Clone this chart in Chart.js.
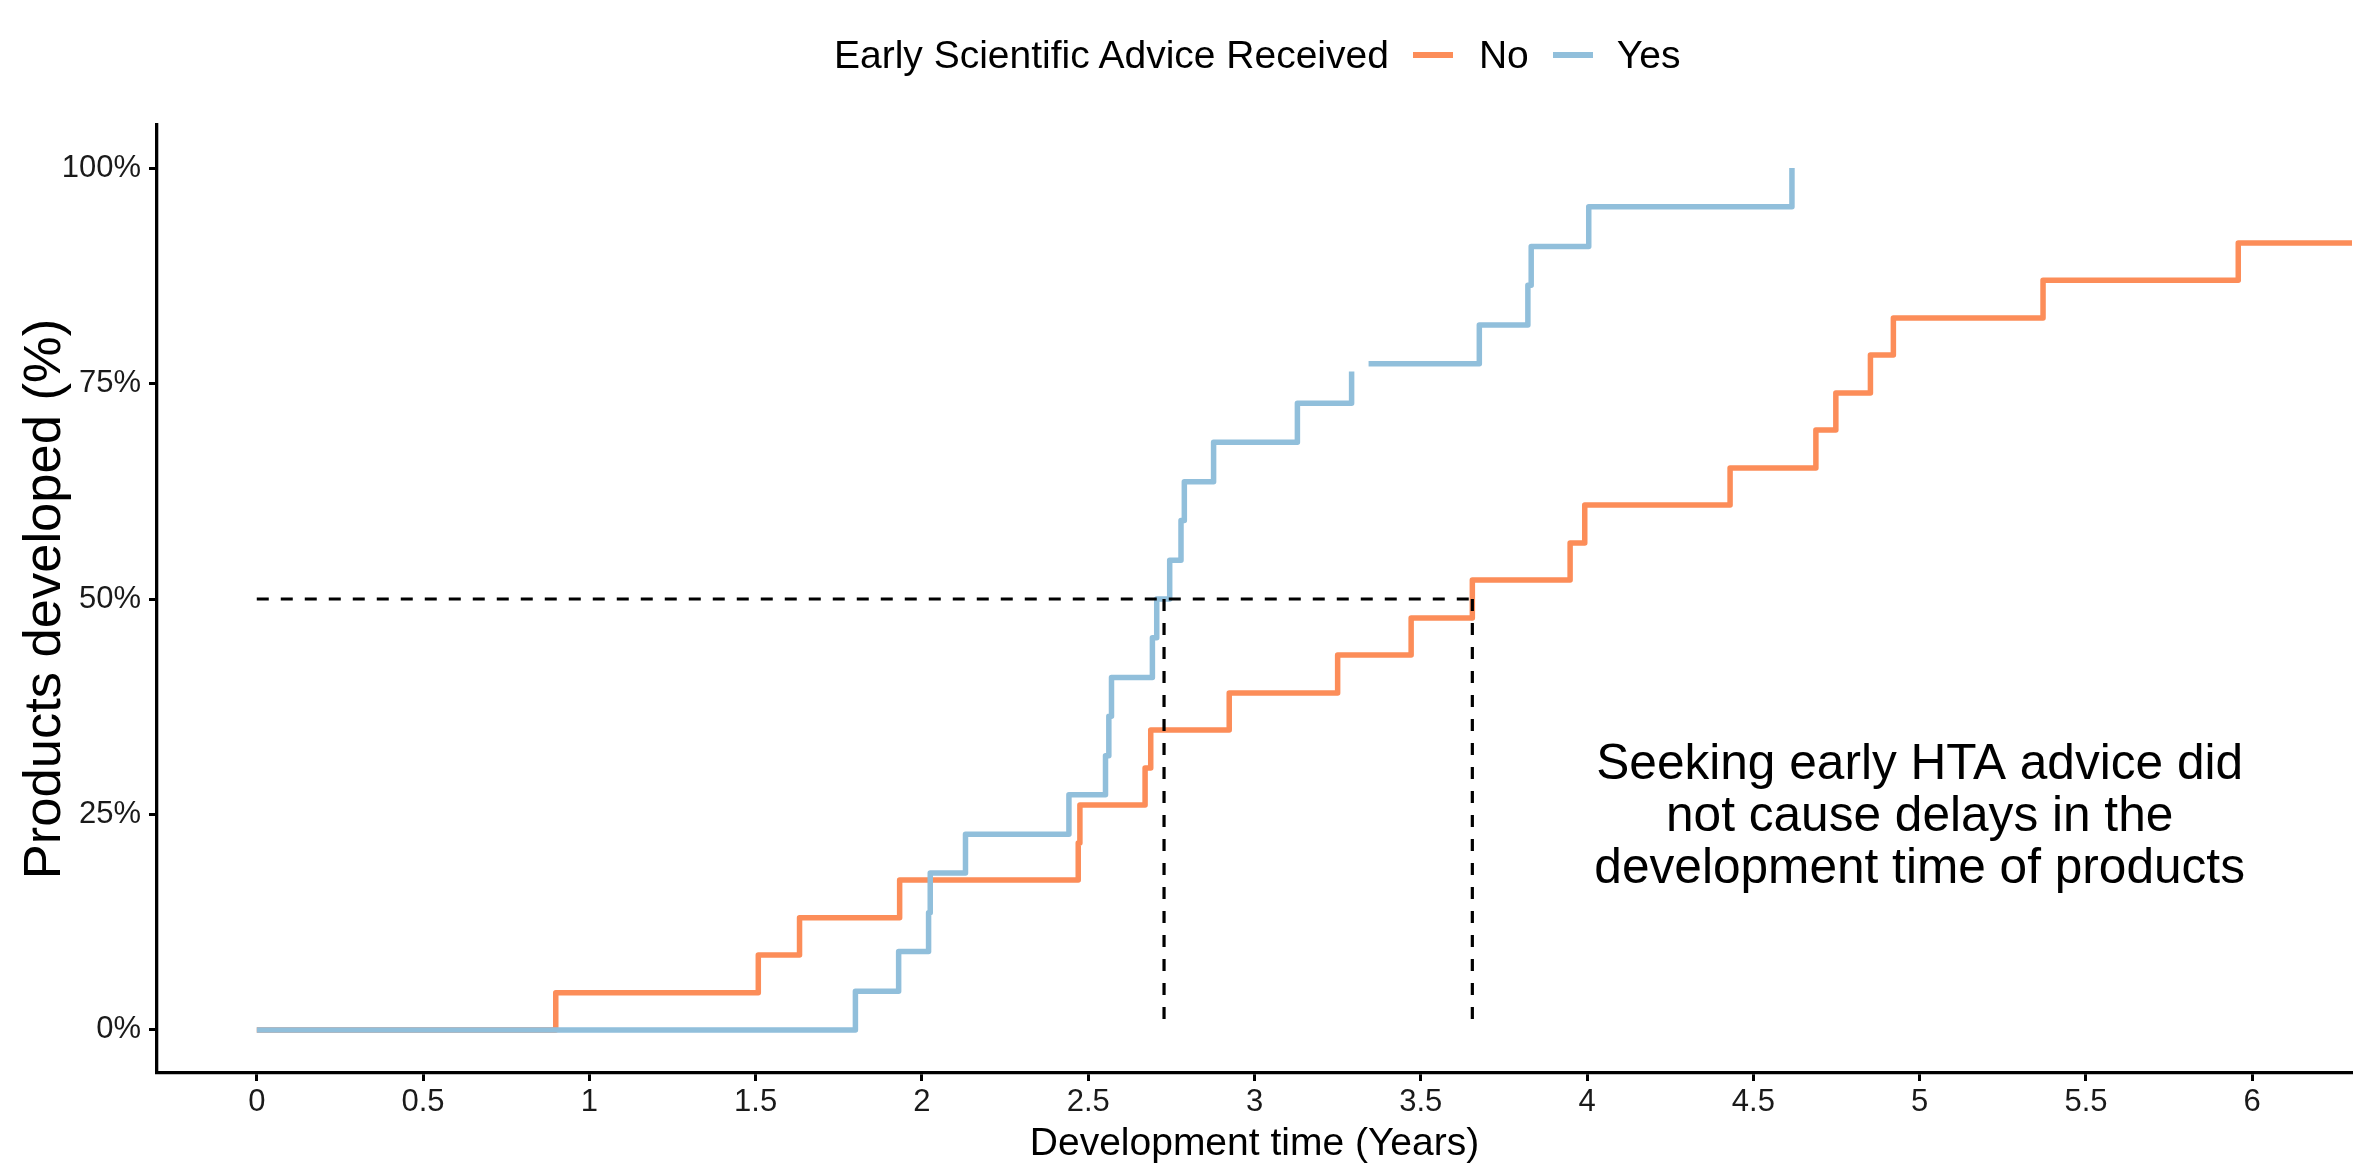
<!DOCTYPE html>
<html>
<head>
<meta charset="utf-8">
<script src="https://cdn.jsdelivr.net/npm/chart.js@4.4.1/dist/chart.umd.min.js"></script>
<style>
  html, body { margin: 0; padding: 0; background: #fff; }
  #wrap { position: relative; width: 2360px; height: 1175px; }
  #legend {
    position: absolute; left: 834px; top: 30px; height: 50px;
    display: flex; align-items: center;
    font-family: "Liberation Sans", Arial, sans-serif; font-size: 39px; color: #000;
    white-space: nowrap;
  }
  #legend .key { display: inline-block; width: 40px; height: 6px; }
</style>
</head>
<body>
<div id="wrap">
  <canvas id="myChart" width="2360" height="1175"></canvas>
  <div id="legend"></div>
</div>
<script>
// Datos
const xTicks = [0, 0.5, 1, 1.5, 2, 2.5, 3, 3.5, 4, 4.5, 5, 5.5, 6];
const xTickLabels = ['0', '0.5', '1', '1.5', '2', '2.5', '3', '3.5', '4', '4.5', '5', '5.5', '6'];
const yTicks = [0, 25, 50, 75, 100];
const yTickLabels = ['0%', '25%', '50%', '75%', '100%'];

const groups = ['No', 'Yes'];
const noTimes = [0, 0.899, 1.508, 1.632, 1.933, 2.470, 2.475, 2.671, 2.688, 2.924, 3.250, 3.471, 3.655, 3.949, 3.993, 4.430, 4.688, 4.748, 4.852, 4.921, 5.371, 5.958, 6.3];
const noPct = [0, 4.3, 8.7, 13.0, 17.4, 21.7, 26.1, 30.4, 34.8, 39.1, 43.5, 47.8, 52.2, 56.5, 60.9, 65.2, 69.6, 73.9, 78.3, 82.6, 87.0, 91.3, 91.3];
const yesTimes = [0, 1.800, 1.930, 2.020, 2.025, 2.131, 2.442, 2.552, 2.562, 2.570, 2.693, 2.706, 2.745, 2.779, 2.789, 2.877, 3.129, 3.292, 3.31, 3.343, 3.676, 3.822, 3.832, 4.005, 4.616];
const yesPct = [0, 4.5, 9.1, 13.6, 18.2, 22.7, 27.3, 31.8, 36.4, 40.9, 45.5, 50.0, 54.5, 59.1, 63.6, 68.2, 72.7, 76.4, null, 77.3, 81.8, 86.4, 90.9, 95.5, 100];

const medianLevel = 50;
const medianYes = 2.728;
const medianNo = 3.655;

const annoLines = ['Seeking early HTA advice did', 'not cause delays in the', 'development time of products'];
const annoX = 5.0;
const annoY = 24.7;

const legendTitle = 'Early Scientific Advice Received';
const colors = { No: '#FC8D59', Yes: '#91BFDB' };
const FONT = '"Liberation Sans", Arial, sans-serif';

// Leyenda
const legendEl = document.getElementById('legend');
legendEl.innerHTML =
  `<span>${legendTitle}</span>` +
  `<span class="key" style="background:${colors.No};margin:0 26px 0 24px"></span><span>${groups[0]}</span>` +
  `<span class="key" style="background:${colors.Yes};margin:0 24px 0 24px"></span><span>${groups[1]}</span>`;

const toPoints = (xs, ys) => xs.map((x, i) => ({ x: x, y: ys[i] }));

// Texto de anotación
const annotationPlugin = {
  id: 'annotationText',
  afterDatasetsDraw(chart) {
    const { ctx, scales } = chart;
    const cx = scales.x.getPixelForValue(annoX);
    const cy = scales.y.getPixelForValue(annoY);
    const lh = 52;
    ctx.save();
    ctx.font = `49.6px ${FONT}`;
    ctx.fillStyle = '#000';
    ctx.textAlign = 'center';
    ctx.textBaseline = 'middle';
    annoLines.forEach((t, i) => {
      ctx.fillText(t, cx, cy + (i - 1) * lh);
    });
    ctx.restore();
  }
};

const ctx = document.getElementById('myChart').getContext('2d');
new Chart(ctx, {
  type: 'line',
  data: {
    datasets: [
      {
        label: 'median',
        data: [
          { x: 0, y: medianLevel }, { x: medianNo, y: medianLevel }, { x: medianNo, y: null },
          { x: medianYes, y: medianLevel }, { x: medianYes, y: 0 }, { x: medianYes, y: null },
          { x: medianNo, y: medianLevel }, { x: medianNo, y: 0 }
        ],
        borderColor: '#000',
        borderWidth: 3.2,
        borderDash: [12, 12],
        pointRadius: 0,
        order: 0
      },
      {
        label: groups[1],
        data: toPoints(yesTimes, yesPct),
        borderColor: colors.Yes,
        borderWidth: 5.5,
        stepped: true,
        pointRadius: 0,
        borderJoinStyle: 'round',
        order: 1
      },
      {
        label: groups[0],
        data: toPoints(noTimes, noPct),
        borderColor: colors.No,
        borderWidth: 5.5,
        stepped: true,
        pointRadius: 0,
        borderJoinStyle: 'round',
        order: 2
      }
    ]
  },
  options: {
    responsive: false,
    devicePixelRatio: 1,
    animation: false,
    layout: { padding: { top: 125, right: 8, left: 0, bottom: 0 } },
    plugins: {
      legend: { display: false },
      tooltip: { enabled: false }
    },
    scales: {
      x: {
        type: 'linear',
        min: -0.3,
        max: 6.3,
        afterBuildTicks: axis => { axis.ticks = xTicks.map(v => ({ value: v })); },
        afterFit: axis => { axis.height = 102; },
        ticks: {
          callback: (v) => xTickLabels[xTicks.indexOf(v)],
          font: { family: FONT, size: 31 },
          color: '#1a1a1a',
          padding: 3,
          maxRotation: 0,
          autoSkip: false
        },
        grid: { drawOnChartArea: false, drawTicks: true, tickLength: 8, tickWidth: 3, tickColor: '#000' },
        border: { display: true, color: '#000', width: 3.3 },
        title: {
          display: true,
          text: 'Development time (Years)',
          font: { family: FONT, size: 39 },
          color: '#000',
          padding: { top: 0, bottom: 7 }
        }
      },
      y: {
        min: -5,
        max: 105,
        afterBuildTicks: axis => { axis.ticks = yTicks.map(v => ({ value: v })); },
        afterFit: axis => { axis.width = 157; },
        ticks: {
          callback: (v) => yTickLabels[yTicks.indexOf(v)],
          font: { family: FONT, size: 31 },
          color: '#1a1a1a',
          padding: 8
        },
        grid: { drawOnChartArea: false, drawTicks: true, tickLength: 8, tickWidth: 3, tickColor: '#000' },
        border: { display: true, color: '#000', width: 3.3 },
        title: {
          display: true,
          text: 'Products developed (%)',
          font: { family: FONT, size: 52.5 },
          color: '#000',
          padding: { top: 14, bottom: 0 }
        }
      }
    }
  },
  plugins: [annotationPlugin]
});
</script>
</body>
</html>
